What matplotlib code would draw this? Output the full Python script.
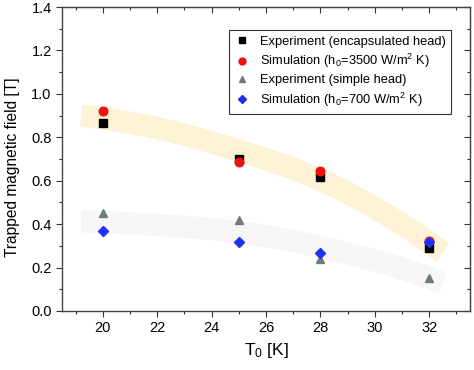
import numpy as np
import matplotlib
matplotlib.use("Agg")
import matplotlib.pyplot as plt
from matplotlib.ticker import MultipleLocator

plt.rcParams['font.family'] = ['Liberation Sans', 'DejaVu Sans']
plt.rcParams['mathtext.fontset'] = 'custom'
plt.rcParams['mathtext.rm'] = 'Liberation Sans'
plt.rcParams['mathtext.it'] = 'Liberation Sans'

# ---- data ----
temps = [20, 25, 28, 32]
exp_encap = [0.867, 0.702, 0.616, 0.288]
sim_3500 = [0.921, 0.687, 0.647, 0.323]
exp_simple = [0.451, 0.420, 0.240, 0.154]
sim_700 = [0.370, 0.319, 0.268, 0.320]

# guide-to-the-eye bands
band_hi_x = [19.2, 20.0, 21.0, 22.0, 23.0, 24.0, 25.0, 26.0, 27.0, 28.0,
             29.0, 30.0, 31.0, 32.0, 32.5]
band_hi_y = [0.900, 0.888, 0.868, 0.843, 0.812, 0.777, 0.738, 0.700, 0.655,
             0.605, 0.545, 0.475, 0.400, 0.315, 0.270]
band_lo_x = [19.2, 20.0, 21.0, 22.0, 23.0, 24.0, 25.0, 26.0, 27.0, 28.0,
             29.0, 30.0, 31.0, 32.0, 32.5]
band_lo_y = [0.413, 0.410, 0.404, 0.396, 0.388, 0.377, 0.363, 0.345, 0.322,
             0.295, 0.265, 0.232, 0.196, 0.152, 0.128]

fig = plt.figure(figsize=(4.74, 3.70), dpi=100)
ax = fig.add_axes([0.131, 0.1595, 0.8606, 0.8215])

ax.plot(band_hi_x, band_hi_y, color='#FDF2D6', lw=16, solid_capstyle='butt',
        solid_joinstyle='round', zorder=1)
ax.plot(band_lo_x, band_lo_y, color='#F6F6F6', lw=16, solid_capstyle='butt',
        solid_joinstyle='round', zorder=1)

ax.plot(temps, exp_encap, 's', color='black', ms=5.3, ls='none',
        label='Experiment (encapsulated head)', zorder=3)
ax.plot(temps, sim_3500, 'o', color='#F01010', ms=6.2, ls='none',
        label='Simulation (h$_0$=3500 W/m$^2$ K)', zorder=3)
ax.plot(temps, exp_simple, '^', color='#6F7B7B', ms=6, ls='none',
        label='Experiment (simple head)', zorder=3)
ax.plot(temps, sim_700, 'D', color='#2030F0', ms=5.3, ls='none',
        label='Simulation (h$_0$=700 W/m$^2$ K)', zorder=4)

ax.set_xlim(18.5, 33.5)
ax.set_ylim(0.0, 1.4)
ax.xaxis.set_major_locator(MultipleLocator(2))
ax.xaxis.set_minor_locator(MultipleLocator(1))
ax.yaxis.set_major_locator(MultipleLocator(0.2))
ax.yaxis.set_minor_locator(MultipleLocator(0.1))
ax.yaxis.set_major_formatter(plt.FormatStrFormatter('%.1f'))

ax.tick_params(which='both', direction='out', top=False, right=False,
               labelsize=10.5, colors='#333333', labelcolor='black')
ax.tick_params(which='major', length=4, width=0.8)
ax.tick_params(which='minor', length=2.5, width=0.8)

# inward ticks on top and right
axt = ax.secondary_xaxis('top')
axt.xaxis.set_major_locator(MultipleLocator(2))
axt.xaxis.set_minor_locator(MultipleLocator(1))
axt.tick_params(which='both', direction='in', labeltop=False, colors='#333333')
axt.tick_params(which='major', length=4, width=0.8)
axt.tick_params(which='minor', length=2.5, width=0.8)
axr = ax.secondary_yaxis('right')
axr.yaxis.set_major_locator(MultipleLocator(0.2))
axr.yaxis.set_minor_locator(MultipleLocator(0.1))
axr.tick_params(which='both', direction='in', labelright=False, colors='#333333')
axr.tick_params(which='major', length=4, width=0.8)
axr.tick_params(which='minor', length=2.5, width=0.8)

for s in ax.spines.values():
    s.set_color('#444444')
    s.set_linewidth(1.0)
axt.spines['top'].set_color('#444444')
axr.spines['right'].set_color('#444444')

ax.set_xlabel('T$_0$ [K]', fontsize=12.5, labelpad=4)
ax.set_ylabel('Trapped magnetic field [T]', fontsize=11.2, labelpad=6)
ax.yaxis.set_label_coords(-0.103, 0.474)

leg = ax.legend(loc='upper left', bbox_to_anchor=(0.41, 0.9245), fontsize=9.3,
                frameon=True, fancybox=False, edgecolor='black',
                handlelength=1.0, handletextpad=0.9, borderpad=0.45,
                labelspacing=0.32, borderaxespad=0, markerscale=0.8)
leg.get_frame().set_linewidth(0.8)

fig.savefig('out.png', dpi=100)
